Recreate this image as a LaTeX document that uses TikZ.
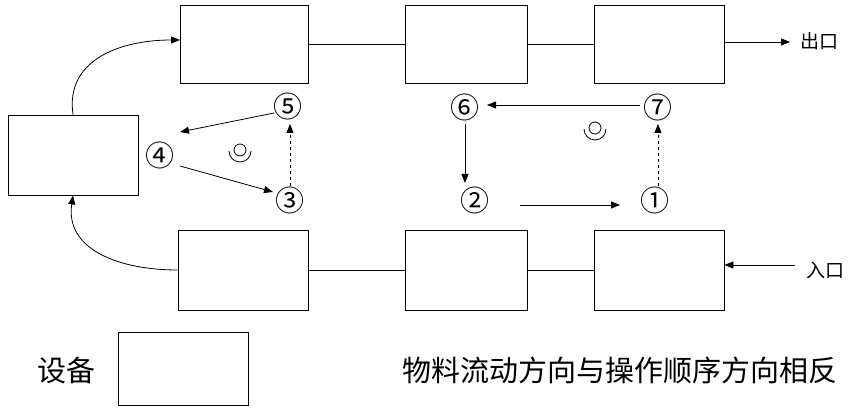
\documentclass[tikz,border=0pt]{standalone}
\usepackage{fontspec}
\newfontfamily\cjk{Noto Sans CJK SC}
\usetikzlibrary{arrows.meta}
\begin{document}
\begin{tikzpicture}[x=1pt,y=-1pt,
 box/.style={draw,line width=0.9pt,inner sep=0pt,minimum width=128pt,minimum height=78pt},
 arr/.style={-{Triangle[length=9pt,width=7pt]},line width=0.8pt},
 num/.style={font=\cjk\fontsize{29}{29}\selectfont,inner sep=0pt},
 lab/.style={font=\cjk\fontsize{19}{19}\selectfont,inner sep=0pt}]
\useasboundingbox (0,0) rectangle (865,419);
\node[box] (t1) at (244,44) {};
\node[box,minimum width=122pt] (t2) at (466,44) {};
\node[box,minimum width=130pt] (t3) at (659,44) {};
\node[box,minimum width=130pt,minimum height=80pt] (b1) at (243,270) {};
\node[box,minimum width=122pt,minimum height=80pt] (b2) at (466,270) {};
\node[box,minimum width=130pt,minimum height=80pt] (b3) at (659,270) {};
\node[box,minimum width=130pt,minimum height=80pt] (L) at (73,155) {};
\node[box,minimum width=130pt,minimum height=73pt] (leg) at (183,368.5) {};
\draw (t1) -- (t2) (t2) -- (t3);
\draw (b1) -- (b2) (b2) -- (b3);
\coordinate (oe) at (790,42); \coordinate (ie) at (795,265);
\draw[arr] (t3.east |- oe) -- (oe);
\draw[arr] (ie) -- (b3.east |- ie);
\node[lab,anchor=west] (out) at (800,41) {出口};
\node[lab,anchor=west] (in) at (806,270) {入口};
\coordinate (ta) at (180,40);
\draw[arr] (L.north) .. controls (65,60) and (120,40) .. (ta);
\draw[arr] (b1.west) .. controls (120,270) and (65,250) .. (L.south);
\node[num] (n5) at (288,106) {⑤};
\node[num] (n4) at (160,155) {④};
\node[num] (n3) at (290,200) {③};
\node[num] (n6) at (465,107) {⑥};
\node[num] (n2) at (475,200) {②};
\node[num] (n7) at (658,107) {⑦};
\node[num] (n1) at (655,200) {①};
\draw[arr] (274,113) -- (180,132);
\draw[arr] (180,166) -- (273,192);
\draw[arr,dashed] (290,186) -- (290,124);
\draw[arr] (465,124) -- (465,183);
\draw[arr] (520,205) -- (620,205);
\draw[arr,dashed] (658,186) -- (658,124);
\draw[arr] (640,105) -- (487,105);
\foreach \x/\y in {240/150,595/128}{
 \draw[line width=0.8pt] (\x,\y) circle (6);
 \draw[line width=0.8pt] (\x-11,\y+1) arc (180:0:11);
}
\node[font=\cjk\fontsize{29}{29}\selectfont] (legt) at (66,370) {设备};
\node[font=\cjk\fontsize{29}{29}\selectfont] (note) at (620,370) {物料流动方向与操作顺序方向相反};
\end{tikzpicture}
\end{document}
